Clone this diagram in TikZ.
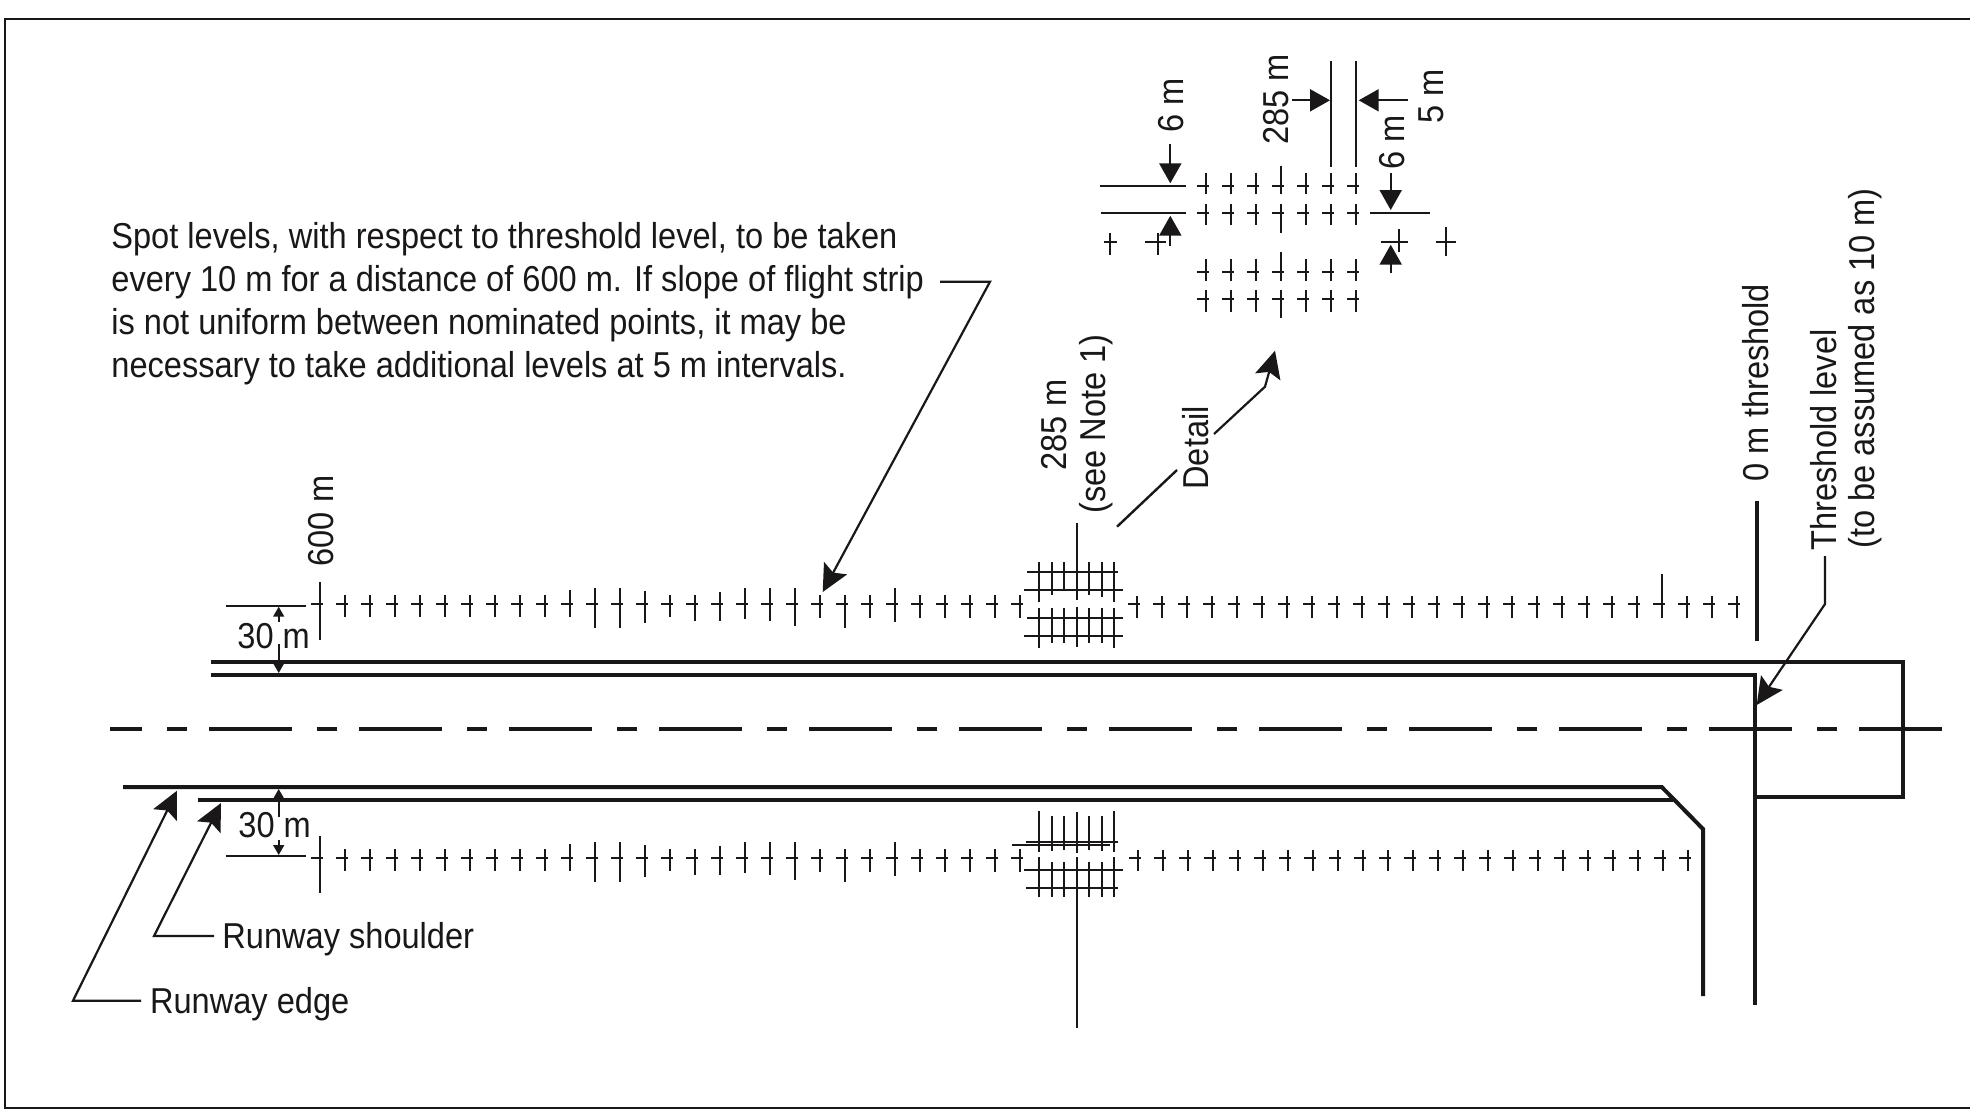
\documentclass[tikz,border=0pt]{standalone}
\usepackage{fontspec}
\setmainfont{Liberation Sans}[FakeStretch=0.905]
\usetikzlibrary{arrows.meta}
\definecolor{ink}{HTML}{1A1718}
\newcommand{\cru}[4]{\draw[crossline] (#1-9,#2) -- (#1+3,#2) (#1,#2-#3) -- (#1,#2+#4);}
\newcommand{\crub}[4]{\draw[crossline] (#1-9,#2) -- (#1+3,#2); \draw[crossline,line width=1.3pt] (#1,#2-#3) -- (#1,#2+#4);}
\tikzset{
  lab/.style={anchor=base west,inner sep=0pt,text=ink,font=\fontsize{18}{21.5}\selectfont},
  rot/.style={lab,rotate=90},
  thin line/.style={draw=ink,line width=1pt},
  crossline/.style={draw=ink,line width=1pt},
  grid line/.style={draw=ink,line width=1pt},
  runway/.style={draw=ink,line width=2pt,miter limit=10},
  leader/.style={draw=ink,line width=1.1pt,-{Stealth[length=13.5pt,width=13pt,inset=2.5pt]}},
  dimbig/.style={draw=ink,line width=1.1pt,-{Triangle[length=10pt,width=11pt]}},
  dimsmall/.style={draw=ink,line width=0.8pt,-{Triangle[length=5pt,width=5.5pt]}},
}
\begin{document}
\begin{tikzpicture}[x=0.5pt,y=-0.5pt]
\useasboundingbox (0,0) rectangle (1970,1110);
\fill[white] (0,0) rectangle (1970,1110);
% frame
\draw[thin line] (1970,19) -- (5,19) -- (5,1108) -- (1970,1108);

% labels
\node[lab,align=left,anchor=north west] (spot) at (111,222.5) {Spot levels, with respect to threshold level, to be taken\\every 10 m for a distance of 600 m. If slope of flight strip\\is not uniform between nominated points, it may be\\necessary to take additional levels at 5 m intervals.};
\node[rot] (l600) at (333.5,566.7) {600 m};
\node[rot] (l285a) at (1066.7,470.7) {285 m};
\node[rot] (l285b) at (1105,514) {(see Note 1)};
\node[rot] (ldetail) at (1208.7,490) {Detail};
\node[rot] (l0m) at (1768,481.7) {0 m threshold};
\node[rot] (lthA) at (1836.7,550.7) {Threshold level};
\node[rot] (lthB) at (1874,549) {(to be assumed as 10 m)};
\node[lab] (l30a) at (237,648) {30 m};
\node[lab] (l30b) at (238,837.7) {30 m};
\node[lab] (lshoulder) at (222,948) {Runway shoulder};
\node[lab] (ledge) at (149.7,1013) {Runway edge};
\node[rot] (d6a) at (1183,132.7) {6 m};
\node[rot] (d285) at (1288,145) {285 m};
\node[rot] (d5) at (1443.5,124) {5 m};
\node[rot] (d6b) at (1404,170) {6 m};

% runway
\draw[runway] (211,662) -- (1902.7,662) -- (1902.7,796.7) -- (1755,796.7);
\draw[runway] (211,675) -- (1755,675) -- (1755,1005);
\draw[runway] (123,787) -- (1661.7,787) -- (1703,829) -- (1703,996);
\draw[runway] (198,800) -- (1673,800);
\draw[runway,dash pattern=on 41.5pt off 12.5pt on 10pt off 11pt,dash phase=25.5pt] (110,729) -- (1942,729);
\draw[draw=ink,line width=1.8pt] (1757,500.7) -- (1757,640.7);

% first big ticks
\crub{320}{604}{22}{36}
\crub{320}{858}{22}{35}

% left tick rows
\foreach \yy in {604,858}{
  \foreach \xx/\uu/\dd in {345/9/13,370/9/13,395/9/13,420/9/13,445/9/13,470/9/13,495/9/13,520/9/13,545/9/13,
    570/14/13,595/16/24,620/16/24,645/13/19,670/9/13,695/9/17,720/12/17,745/16/15,770/16/17,795/16/22,
    820/9/14,845/9/24,870/9/14,895/16/18,920/9/14,945/9/14,970/9/14,995/9/14,1020/9/14}{
    \crub{\xx}{\yy}{\uu}{\dd}
  }
}
% right tick rows
\foreach \k in {0,...,24}{
  \pgfmathsetmacro{\xx}{1137+25*\k}
  \ifnum\k=21 \cru{\xx}{604}{30}{14}\else \cru{\xx}{604}{8}{14}\fi
}
\foreach \k in {0,...,22}{
  \pgfmathsetmacro{\xx}{1138+25*\k}
  \cru{\xx}{857.5}{8}{13}
}

% upper grid
\draw[grid line] (1027,571.7) -- (1118,571.7) (1024,589.7) -- (1123,589.7) (1027,617.7) -- (1123,617.7) (1024,635.7) -- (1123,635.7);
\foreach \xx/\a/\b in {1039/562/602,1051.7/562/595,1064/562/590,1089/562/595,1101.7/562/597,1114/562/602}{
  \draw[grid line] (\xx,\a) -- (\xx,\b);
}
\foreach \xx/\a/\b in {1039/608/648,1051.7/608/643,1064/608/643,1076.7/607/647,1089/608/643,1101.7/608/643,1114/608/648}{
  \draw[grid line] (\xx,\a) -- (\xx,\b);
}
\draw[grid line] (1077,523) -- (1077,600);

% lower grid
\draw[grid line] (1026,841.7) -- (1118,841.7) (1012,844.7) -- (1110,844.7) (1024,869.7) -- (1123,869.7) (1026,887.7) -- (1118,887.7);
\foreach \xx/\a/\b in {1039/811/852,1051.7/816/851,1064/816/850,1076.7/812/853,1089/816/850,1101.7/816/851,1114/811/852}{
  \draw[grid line] (\xx,\a) -- (\xx,\b);
}
\foreach \xx/\a/\b in {1039/857/897,1051.7/862/897,1064/862/897,1089/862/897,1101.7/862/897,1114/857/897}{
  \draw[grid line] (\xx,\a) -- (\xx,\b);
}
\draw[grid line] (1076.7,857) -- (1076.7,1028);

% detail block
\foreach \xx in {1206,1231,1256,1281,1306,1331,1356}{
  \pgfmathsetmacro{\ua}{\xx==1281?20:13}
  \pgfmathsetmacro{\db}{\xx==1281?20:12}
  \cru{\xx}{185.7}{\ua}{8}
  \cru{\xx}{212.7}{9}{\db}
  \pgfmathsetmacro{\uc}{\xx==1281?20:13}
  \pgfmathsetmacro{\dd}{\xx==1281?19:13}
  \cru{\xx}{271.7}{\uc}{9}
  \cru{\xx}{298.7}{9}{\dd}
}
\draw[thin line] (1100,185.7) -- (1185.7,185.7) (1101,212.7) -- (1185.7,212.7) (1370,212.7) -- (1430,212.7);
\draw[crossline] (1331,60.7) -- (1331,166.7) (1356,60.7) -- (1356,166.7);
\draw[crossline] (1104,241.7) -- (1117,241.7) (1110,232.7) -- (1110,255);
\draw[crossline] (1145,241.7) -- (1166,241.7) (1157.7,232.7) -- (1157.7,255);
\draw[crossline] (1381,241.7) -- (1408,241.7) (1399,229) -- (1399,252);
\draw[crossline] (1436,241.7) -- (1456,241.7) (1446,227) -- (1446,256);

% detail dimensions
\coordinate (a1) at (1292,100.3); \coordinate (a2) at (1330,100.3);
\coordinate (b1) at (1408,100.3); \coordinate (b2) at (1358.7,100.3);
\coordinate (c1) at (1170.3,144); \coordinate (c2) at (1170.3,183.3);
\coordinate (e1) at (1170.3,245.7); \coordinate (e2) at (1170.3,215.7);
\coordinate (f1) at (1390.7,173.3); \coordinate (f2) at (1390.7,210);
\coordinate (g1) at (1390.7,272.7); \coordinate (g2) at (1390.7,244.7);
\foreach \p/\q in {a1/a2,b1/b2,c1/c2,e1/e2,f1/f2,g1/g2}{\draw[dimbig] (\p) -- (\q);}

% 30 m dimensions
\draw[thin line] (225.7,605.7) -- (306,605.7) (225.7,856) -- (306,856);
\coordinate (h1) at (278.7,621.7); \coordinate (h2) at (278.7,606.7);
\coordinate (i1) at (278.7,644); \coordinate (i2) at (278.7,673);
\coordinate (j1) at (278.7,817); \coordinate (j2) at (278.7,789);
\coordinate (m1) at (278.7,840); \coordinate (m2) at (278.7,855);
\foreach \p/\q in {h1/h2,i1/i2,j1/j2,m1/m2}{\draw[dimsmall] (\p) -- (\q);}

% leaders
\coordinate (s1) at (940,281.7); \coordinate (s2) at (990,281.7); \coordinate (s3) at (822.7,592);
\draw[leader] (s1) -- (s2) -- (s3);
\coordinate (t1) at (1825,556); \coordinate (t2) at (1825,604); \coordinate (t3) at (1756.7,705);
\draw[leader] (t1) -- (t2) -- (t3);
\coordinate (u1) at (214,936); \coordinate (u2) at (154,936); \coordinate (u3) at (221,803);
\draw[leader] (u1) -- (u2) -- (u3);
\coordinate (v1) at (141,1000.7); \coordinate (v2) at (73,1000.7); \coordinate (v3) at (177,790.7);
\draw[leader] (v1) -- (v2) -- (v3);
\coordinate (w1) at (1117,526.7); \coordinate (w2) at (1177,470);
\draw[thin line,line width=1.2pt] (w1) -- (w2);
\coordinate (w3) at (1214,434); \coordinate (w4) at (1265,386.7); \coordinate (w5) at (1275,350.7);
\draw[leader] (w3) -- (w4) -- (w5);
\end{tikzpicture}
\end{document}
